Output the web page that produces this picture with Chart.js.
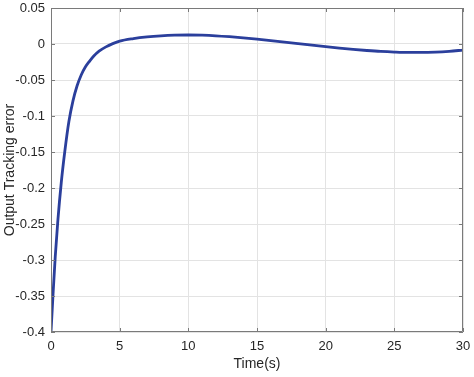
<!DOCTYPE html>
<html>
<head>
<meta charset="utf-8">
<script src="https://cdn.jsdelivr.net/npm/chart.js@4/dist/chart.umd.min.js"></script>
<style>
  html, body { margin: 0; padding: 0; background: #fff; }
  #wrap { width: 474px; height: 377px; }
</style>
</head>
<body>
<div id="wrap"><canvas id="c" width="474" height="377"></canvas></div>
<script>
// ── Data ──────────────────────────────────────────────────────────────────────
const time = [0, 0.15, 0.31, 0.5, 0.75, 1.0, 1.3, 1.6, 1.9, 2.2, 2.5, 2.8, 3.1, 3.5, 4.0, 4.5,
  5, 6, 7, 8, 9, 10, 11, 12, 13, 14, 15, 16, 17, 18, 19, 20, 21, 22, 23, 24, 25, 26, 27, 28, 29, 30];
const trackErr = [-0.4, -0.347, -0.295, -0.245, -0.192, -0.15, -0.108, -0.079, -0.058, -0.043, -0.032, -0.024, -0.017, -0.010, -0.004, 0.0005,
  0.004, 0.0075, 0.0098, 0.0113, 0.0122, 0.0125, 0.0122, 0.0114, 0.0101, 0.0085, 0.0067, 0.0047, 0.0026, 0.0005,
  -0.0016, -0.0037, -0.0057, -0.0075, -0.009, -0.0103, -0.0112, -0.0117, -0.0117, -0.0112, -0.0101, -0.0085];

const xTicks = [0, 5, 10, 15, 20, 25, 30];
const yTicks = [-0.4, -0.35, -0.3, -0.25, -0.2, -0.15, -0.1, -0.05, 0, 0.05];
const yTickLabels = ['-0.4', '-0.35', '-0.3', '-0.25', '-0.2', '-0.15', '-0.1', '-0.05', '0', '0.05'];

const axisColor = '#7a7a7a';
const textColor = '#262626';
const gridColor = '#e3e3e3';

// inner tick marks on all four sides + box (MATLAB style)
const boxTicks = {
  id: 'boxTicks',
  afterDraw(chart) {
    const { ctx, chartArea: a, scales: { x, y } } = chart;
    ctx.save();
    ctx.strokeStyle = axisColor;
    ctx.lineWidth = 1;
    ctx.beginPath();
    ctx.rect(a.left + 0.5, a.top + 0.5, a.right - a.left - 1, a.bottom - a.top - 1);
    xTicks.forEach(v => {
      const px = Math.round(x.getPixelForValue(v)) + 0.5;
      ctx.moveTo(px, a.bottom); ctx.lineTo(px, a.bottom - 4);
      ctx.moveTo(px, a.top); ctx.lineTo(px, a.top + 4);
    });
    yTicks.forEach(v => {
      const py = Math.round(y.getPixelForValue(v)) + 0.5;
      ctx.moveTo(a.left, py); ctx.lineTo(a.left + 4, py);
      ctx.moveTo(a.right, py); ctx.lineTo(a.right - 4, py);
    });
    ctx.stroke();
    ctx.restore();
  },
};

new Chart(document.getElementById('c'), {
  type: 'line',
  data: {
    datasets: [{
      data: time.map((t, i) => ({ x: t, y: trackErr[i] })),
      borderColor: '#2b3f9c',
      borderWidth: 2.8,
      pointRadius: 0,
      fill: false,
      cubicInterpolationMode: 'monotone',
    }],
  },
  options: {
    responsive: false,
    animation: false,
    layout: { padding: { top: 8, right: 11, left: 0, bottom: 0 } },
    plugins: { legend: { display: false }, tooltip: { enabled: false } },
    scales: {
      x: {
        type: 'linear',
        min: 0, max: 30,
        afterBuildTicks: s => { s.ticks = xTicks.map(v => ({ value: v })); },
        afterFit: s => { s.height = 45; s.paddingLeft = 0; s.paddingRight = 0; },
        grid: { color: gridColor, drawTicks: false },
        border: { display: false },
        ticks: { color: textColor, padding: 7, maxRotation: 0, font: { family: 'Liberation Sans, Arial', size: 13 } },
        title: { display: true, text: 'Time(s)', color: textColor, padding: { top: 0, bottom: 4 },
          font: { family: 'Liberation Sans, Arial', size: 14 } },
      },
      y: {
        min: -0.4, max: 0.05,
        afterBuildTicks: s => { s.ticks = yTicks.map(v => ({ value: v })); },
        afterFit: s => { s.width = 51; s.paddingTop = 0; s.paddingBottom = 0; },
        grid: { color: gridColor, drawTicks: false },
        border: { display: false },
        ticks: {
          color: textColor, padding: 6,
          font: { family: 'Liberation Sans, Arial', size: 13 },
          callback: (v) => yTickLabels[yTicks.findIndex(t => Math.abs(t - v) < 1e-9)],
        },
        title: { display: true, text: 'Output Tracking error', color: textColor, padding: { top: 2, bottom: 0 },
          font: { family: 'Liberation Sans, Arial', size: 14 } },
      },
    },
  },
  plugins: [boxTicks],
});
</script>
</body>
</html>
